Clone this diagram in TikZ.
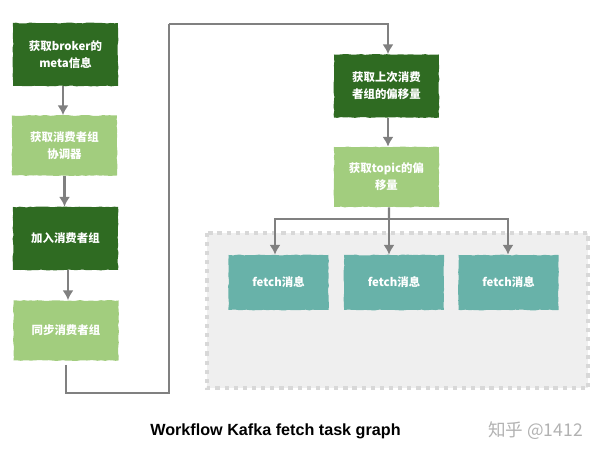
\documentclass[tikz,border=0pt]{standalone}
\usepackage{fontspec}
\setmainfont{Liberation Sans}
\newfontfamily\cjk{Noto Sans CJK SC}
\usetikzlibrary{arrows.meta,decorations.pathmorphing}
\definecolor{darkgreen}{HTML}{2F6B22}
\definecolor{lightgreen}{HTML}{A2CD7E}
\definecolor{teal}{HTML}{68B2A9}
\definecolor{pool}{HTML}{EFEFEF}
\definecolor{pooldots}{HTML}{D8D8D8}
\definecolor{flowgray}{HTML}{808080}
\def\dx{.02cm}
\tikzset{
  task/.style={minimum width=105*\dx,align=center,text=white,font=\cjk\bfseries\fontsize{6.5}{9.7}\selectfont,inner sep=0pt,decorate,decoration={random steps,segment length=2pt,amplitude=.25pt}},
  darktask/.style={task,fill=darkgreen,minimum height=63*\dx},
  lighttask/.style={task,fill=lightgreen,minimum height=60*\dx},
  fetchtask/.style={task,fill=teal,minimum width=100*\dx,minimum height=55*\dx},
  flow/.style={draw=flowgray,line width=1.2pt,-{Latex[length=5.6pt,width=6.4pt]}},
  flowline/.style={draw=flowgray,line width=1.2pt}
}
\begin{document}
\begin{tikzpicture}[x=\dx,y=-\dx]
  \useasboundingbox (0,0) rectangle (600,455);
  \node[fill=pool,minimum width=381*\dx,minimum height=155*\dx,inner sep=0pt] (region) at (397.5,310.5) {};
  \draw[pooldots,line width=2.2pt,dash pattern=on 2.4pt off 2.8pt] (region.north west) rectangle (region.south east);
  \node[darktask] (broker) at (65.5,54.5) {获取broker的\\meta信息};
  \node[lighttask] (coordinator) [below of=broker,yshift=-41*\dx,xshift=-\dx] {获取消费者组\\协调器};
  \node[darktask] (join) [below of=coordinator,yshift=-43*\dx,xshift=\dx] {加入消费者组};
  \node[lighttask] (sync) [below of=join,yshift=-42*\dx,xshift=.5*\dx] {同步消费者组};
  \node[darktask] (offset) at (386.5,86) {获取上次消费\\者组的偏移量};
  \node[lighttask] (topic) [below of=offset,yshift=-41*\dx] {获取topic的偏\\移量};
  \coordinate (low) at (169,393);
  \coordinate (high) at (169,24);
  \coordinate (fork) at (389,219);
  \foreach \i/\x/\s in {1/278.5/-3.5,2/394/-5,3/508.5/-.5} {
    \node[fetchtask] (fetch\i) at (\x,282.5) {fetch消息};
    \draw[flow] (fork) -| ([xshift=\s*\dx]fetch\i.north);
  }
  \draw[flow] ([xshift=-2.5*\dx]broker.south) -- ([xshift=-1.5*\dx]coordinator.north);
  \draw[flow] (coordinator.south) -- (coordinator.south |- join.north);
  \draw[flow] ([xshift=2.5*\dx]join.south) -- ([xshift=2*\dx]sync.north);
  \draw[flowline] ([yshift=-4*\dx]sync.south) |- (low) -- (high);
  \draw[flow] (high) -| ([xshift=1.5*\dx]offset.north);
  \draw[flow] ([xshift=1.5*\dx]offset.south) -- ([xshift=1.5*\dx]topic.north);
  \draw[flowline] ([xshift=2.5*\dx]topic.south) -- (fork);
  \node[font=\bfseries\fontsize{9.2}{12}\selectfont] (title) at (275.5,431) {Workflow Kafka fetch task graph};
  \node[text=black!30,font=\cjk\fontsize{10}{12}\selectfont] (mark) at (535.5,431) {知乎 @1412};
\end{tikzpicture}
\end{document}
